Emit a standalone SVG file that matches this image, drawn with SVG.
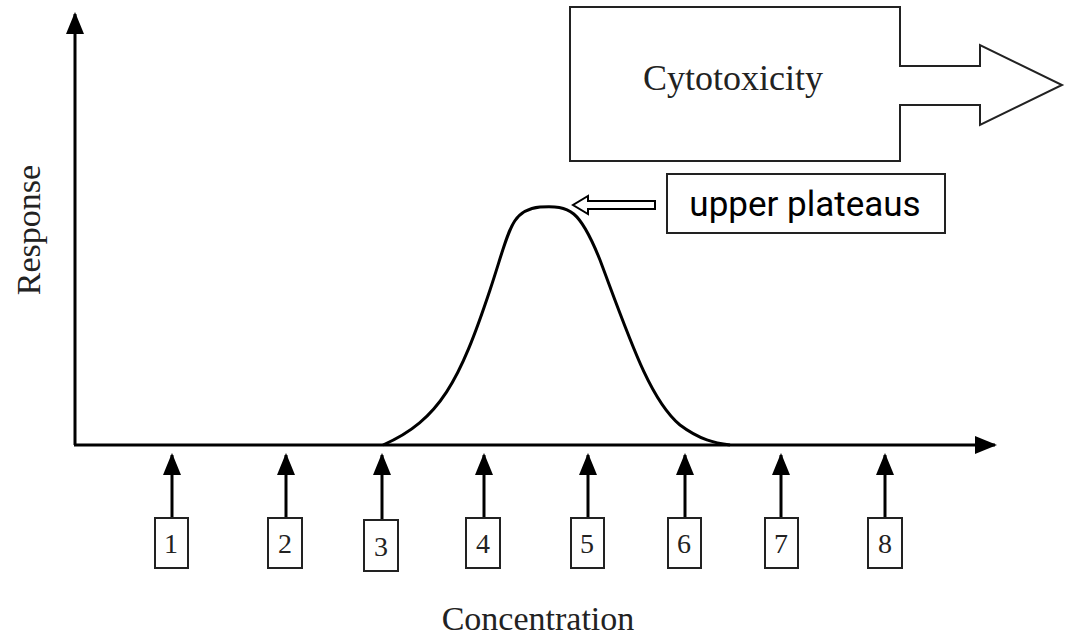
<svg xmlns="http://www.w3.org/2000/svg" width="1080" height="641" viewBox="0 0 1080 641">
<style>
.ln{stroke:#000;stroke-width:3;fill:none}
.bx{fill:#fff;stroke:#222;stroke-width:2}
.t{font-family:"Liberation Serif",serif;font-size:28px;fill:#222;text-anchor:middle}
.r{font-family:Roboto,"Liberation Sans",sans-serif;font-size:35px;fill:#000;text-anchor:middle}
</style>
<defs>
<marker id="big" markerWidth="22" markerHeight="18" refX="20" refY="9" orient="auto" markerUnits="userSpaceOnUse"><path d="M0,0 L22,9 L0,18 z" fill="#000"/></marker>
</defs>
<rect width="1080" height="641" fill="#fff"/>
<g id="axes">
<line class="ln" x1="75" y1="445" x2="75" y2="14" marker-end="url(#big)"/>
<line class="ln" x1="74" y1="445" x2="995" y2="445" marker-end="url(#big)"/>
<text class="t" transform="translate(40,230) rotate(-90)" style="font-size:34px">Response</text>
<text class="t" x="538" y="630" style="font-size:34px">Concentration</text>
</g>
<g id="curve">
<path class="ln" d="M383,445 C440,420 460,380 490,290 C510,230 510,210 540,207 C570,205 580,210 600,260 C630,340 650,400 680,425 C700,440 715,443 730,445"/>
</g>
<g id="cytotoxicity">
<path class="bx" d="M570,7 H900 V66 H980 V45 L1062,85 L980,125 V105 H900 V161 H570 Z"/>
<text class="t" x="733" y="90" style="font-size:36px">Cytotoxicity</text>
</g>
<g id="plateau">
<rect class="bx" x="667" y="174" width="278" height="59" stroke-width="1.5"/>
<text class="r" x="805" y="216">upper plateaus</text>
<path d="M655,201 H588 V196 L573,205 L588,214 V209 H655 Z" fill="#fff" stroke="#000" stroke-width="2"/>
</g>
<g id="connectors">
<line class="ln" x1="172" y1="518" x2="172" y2="455" marker-end="url(#big)"/>
<line class="ln" x1="286" y1="518" x2="286" y2="455" marker-end="url(#big)"/>
<line class="ln" x1="382" y1="520" x2="382" y2="455" marker-end="url(#big)"/>
<line class="ln" x1="484" y1="518" x2="484" y2="455" marker-end="url(#big)"/>
<line class="ln" x1="588" y1="518" x2="588" y2="455" marker-end="url(#big)"/>
<line class="ln" x1="685" y1="518" x2="685" y2="455" marker-end="url(#big)"/>
<line class="ln" x1="781" y1="518" x2="781" y2="455" marker-end="url(#big)"/>
<line class="ln" x1="885" y1="518" x2="885" y2="455" marker-end="url(#big)"/>
</g>
<g id="n1"><rect class="bx" x="155" y="518" width="33" height="50"/><text class="t" x="171" y="553">1</text></g>
<g id="n2"><rect class="bx" x="268" y="518" width="34" height="50"/><text class="t" x="285" y="553">2</text></g>
<g id="n3"><rect class="bx" x="364" y="520" width="34" height="51"/><text class="t" x="381" y="556">3</text></g>
<g id="n4"><rect class="bx" x="466" y="518" width="34" height="50"/><text class="t" x="483" y="553">4</text></g>
<g id="n5"><rect class="bx" x="571" y="518" width="33" height="50"/><text class="t" x="587" y="553">5</text></g>
<g id="n6"><rect class="bx" x="668" y="518" width="33" height="50"/><text class="t" x="684" y="553">6</text></g>
<g id="n7"><rect class="bx" x="765" y="518" width="33" height="50"/><text class="t" x="781" y="553">7</text></g>
<g id="n8"><rect class="bx" x="868" y="518" width="34" height="50"/><text class="t" x="885" y="553">8</text></g>
</svg>
